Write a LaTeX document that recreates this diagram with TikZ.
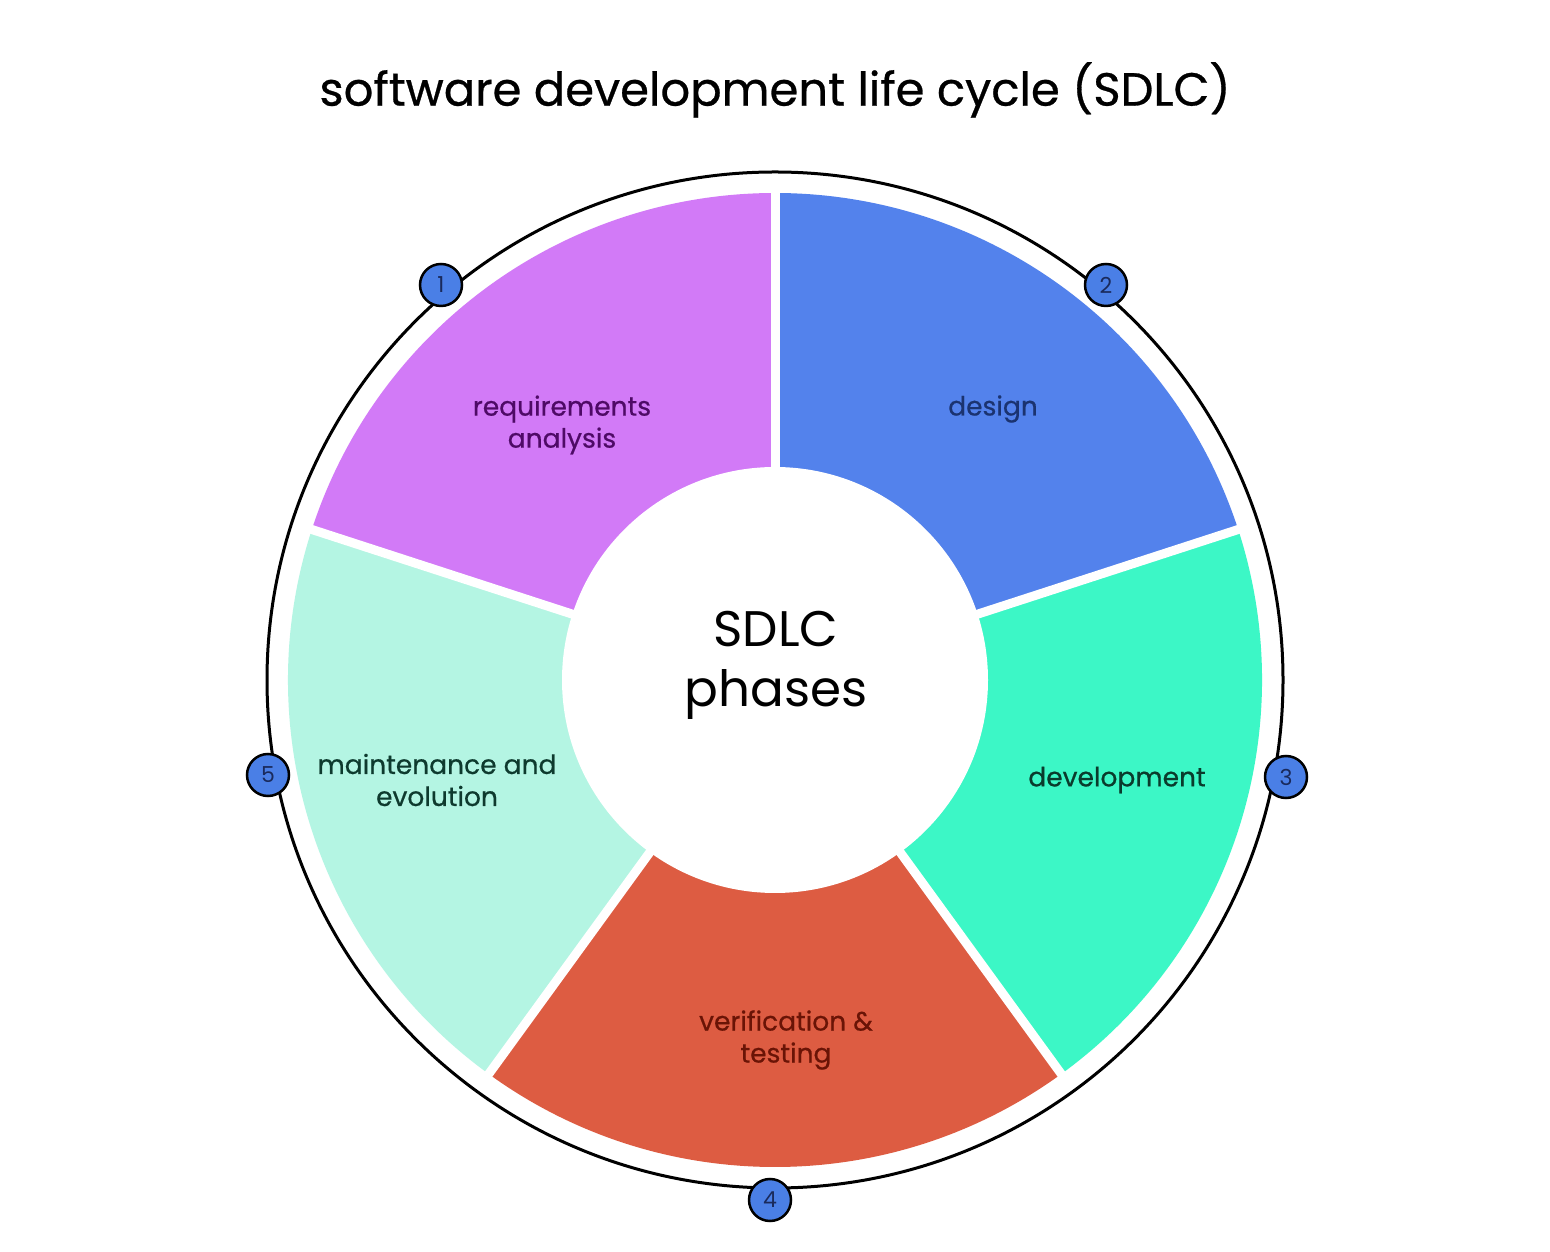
\documentclass[tikz,border=0pt]{standalone}
\usepackage{fontspec}
\setmainfont{Poppins}
\newfontfamily\medfont[FakeBold=0.6]{Poppins}
\definecolor{cPurple}{HTML}{D27AF7}
\definecolor{cBlue}{HTML}{5382EC}
\definecolor{cGreen}{HTML}{3CF7C6}
\definecolor{cRed}{HTML}{DD5C42}
\definecolor{cTeal}{HTML}{B4F5E3}
\definecolor{tPurple}{HTML}{4E0A66}
\definecolor{tBlue}{HTML}{1B3370}
\definecolor{tGreen}{HTML}{0A3B2C}
\definecolor{tRed}{HTML}{6A1406}
\definecolor{tTeal}{HTML}{0E3A2E}
\definecolor{cMark}{HTML}{4A7FE6}
\definecolor{tMark}{HTML}{1A2A5C}
\tikzset{
  phaselabel/.style={align=center, font=\medfont\fontsize{26.5}{32}\selectfont},
  marker/.style={circle, draw=black, line width=2.5pt, fill=cMark, minimum size=42pt, inner sep=0pt, text=tMark, font=\fontsize{22}{22}\selectfont},
  gapline/.style={white, line width=9pt},
}
\begin{document}
\begin{tikzpicture}[x=1pt,y=1pt]
\useasboundingbox (0,0) rectangle (1550,1251);
\fill[white] (0,0) rectangle (1550,1251);
\node (title) at (775,1161) {\medfont\fontsize{46.5}{52}\selectfont software development life cycle (SDLC)};
\begin{scope}[shift={(775,571)}]
  \coordinate (C) at (0,0);
  \draw[line width=3pt] (C) circle[radius=508];
  \fill[cPurple] (C) -- (90:487) arc[start angle=90, end angle=162, radius=487] -- cycle;
  \fill[cBlue] (C) -- (18:487) arc[start angle=18, end angle=90, radius=487] -- cycle;
  \fill[cGreen] (C) -- (-54:487) arc[start angle=-54, end angle=18, radius=487] -- cycle;
  \fill[cRed] (C) -- (-126:487) arc[start angle=-126, end angle=-54, radius=487] -- cycle;
  \fill[cTeal] (C) -- (162:487) arc[start angle=162, end angle=234, radius=487] -- cycle;
  \foreach \a in {90,18,-54,-126,162} \draw[gapline] (C) -- (\a:495);
  \fill[white] (C) circle[radius=213];
\end{scope}
\node[phaselabel, text=tPurple] (lreq) at (562,826) {requirements\\analysis};
\node[phaselabel, text=tBlue] (ldes) at (993,842) {design};
\node[phaselabel, text=tGreen] (ldev) at (1117,471) {development};
\node[phaselabel, text=tRed] (lver) at (786,211) {verification \&\\testing};
\node[phaselabel, text=tTeal] (lmai) at (437,471) {maintenance and\\evolution};
\node[align=center, font=\fontsize{50}{60}\selectfont] (center) at (776,586) {SDLC\\phases};
\node[marker] (m1) at (441,966) {1};
\node[marker] (m2) at (1106,966) {2};
\node[marker] (m3) at (1286,474) {3};
\node[marker] (m4) at (770,51) {4};
\node[marker] (m5) at (268,476) {5};
\end{tikzpicture}
\end{document}
